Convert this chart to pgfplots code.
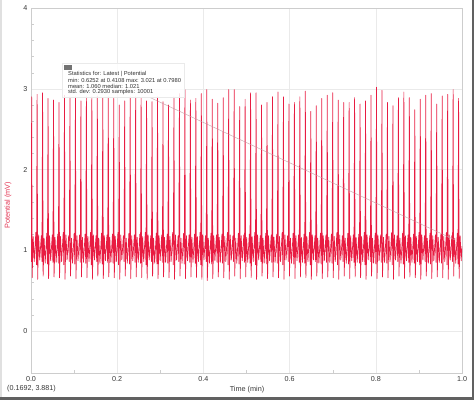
\documentclass[border=0pt]{standalone}
\usepackage{fontspec}
\setmainfont{Liberation Sans}
\usepackage{pgfplots}
\pgfplotsset{compat=1.18}

\definecolor{trace}{RGB}{232,28,66}
\definecolor{gridgray}{RGB}{234,234,234}
\definecolor{framegray}{RGB}{205,205,205}
\definecolor{ticktext}{RGB}{55,55,55}
\definecolor{leader}{RGB}{196,150,160}
\definecolor{ylab}{RGB}{226,50,80}

\begin{document}
\begin{tikzpicture}[x=1bp,y=1bp]
\fill[white] (0,0) rectangle (474,400);

\begin{axis}[
    at={(31bp,27bp)}, anchor=south west,
    scale only axis,
    width=431bp, height=365bp,
    xmin=0, xmax=1,
    ymin=-0.52, ymax=4,
    xtick={0,0.2,0.4,0.6,0.8,1},
    ytick={0,1,2,3,4},
    minor x tick num=1,
    minor y tick num=4,
    xtick pos=bottom, ytick pos=left,
    major tick length=0pt,
    minor tick length=3bp,
    minor tick style={framegray},
    axis line style={framegray},
    grid=major,
    major grid style={gridgray, line width=0.5pt},
    ticklabel style={font=\fontsize{7.2}{8}\selectfont, text=ticktext},
    xticklabel style={/pgf/number format/.cd, fixed, fixed zerofill, precision=1, assume math mode=true},
    yticklabel style={/pgf/number format/assume math mode=true},
]

\addplot[trace, line width=0.7bp, line join=round] coordinates {
(0.0000,1.02) (0.0008,0.86) (0.0015,2.90) (0.0027,0.66) (0.0050,1.17) (0.0075,0.86)
(0.0112,1.22) (0.0127,0.82) (0.0142,2.93) (0.0154,0.64) (0.0177,1.19) (0.0202,0.88)
(0.0239,1.18) (0.0254,0.86) (0.0269,2.95) (0.0281,0.68) (0.0304,1.15) (0.0329,0.84)
(0.0366,1.21) (0.0381,0.83) (0.0396,2.88) (0.0408,0.65) (0.0431,1.18) (0.0456,0.87)
(0.0493,1.19) (0.0508,0.85) (0.0523,2.86) (0.0535,0.67) (0.0558,1.16) (0.0583,0.85)
(0.0620,1.20) (0.0635,0.84) (0.0650,2.83) (0.0662,0.66) (0.0685,1.17) (0.0710,0.86)
(0.0747,1.22) (0.0762,0.82) (0.0777,2.92) (0.0789,0.64) (0.0812,1.19) (0.0837,0.88)
(0.0874,1.18) (0.0889,0.86) (0.0904,2.90) (0.0916,0.68) (0.0939,1.15) (0.0964,0.84)
(0.1001,1.21) (0.1016,0.83) (0.1031,2.90) (0.1043,0.65) (0.1066,1.18) (0.1091,0.87)
(0.1128,1.19) (0.1143,0.85) (0.1158,2.85) (0.1170,0.67) (0.1193,1.16) (0.1218,0.85)
(0.1255,1.20) (0.1270,0.84) (0.1285,2.90) (0.1297,0.66) (0.1320,1.17) (0.1345,0.86)
(0.1382,1.22) (0.1397,0.82) (0.1412,2.90) (0.1424,0.64) (0.1447,1.19) (0.1472,0.88)
(0.1509,1.18) (0.1524,0.86) (0.1539,2.91) (0.1551,0.68) (0.1574,1.15) (0.1599,0.84)
(0.1636,1.21) (0.1651,0.83) (0.1666,2.89) (0.1678,0.65) (0.1701,1.18) (0.1726,0.87)
(0.1763,1.19) (0.1778,0.85) (0.1793,2.90) (0.1805,0.67) (0.1828,1.16) (0.1853,0.85)
(0.1890,1.20) (0.1905,0.84) (0.1920,2.88) (0.1932,0.66) (0.1955,1.17) (0.1980,0.86)
(0.2017,1.22) (0.2032,0.82) (0.2047,2.80) (0.2059,0.64) (0.2082,1.19) (0.2107,0.88)
(0.2144,1.18) (0.2159,0.86) (0.2174,2.85) (0.2186,0.68) (0.2209,1.15) (0.2234,0.84)
(0.2271,1.21) (0.2286,0.83) (0.2301,2.90) (0.2313,0.65) (0.2336,1.18) (0.2361,0.87)
(0.2398,1.19) (0.2413,0.85) (0.2428,2.90) (0.2440,0.67) (0.2463,1.16) (0.2488,0.85)
(0.2525,1.20) (0.2540,0.84) (0.2555,2.88) (0.2567,0.66) (0.2590,1.17) (0.2615,0.86)
(0.2652,1.22) (0.2667,0.82) (0.2682,2.85) (0.2694,0.64) (0.2717,1.19) (0.2742,0.88)
(0.2779,1.18) (0.2794,0.86) (0.2809,2.84) (0.2821,0.68) (0.2844,1.15) (0.2869,0.84)
(0.2906,1.21) (0.2921,0.83) (0.2936,2.90) (0.2948,0.65) (0.2971,1.18) (0.2996,0.87)
(0.3033,1.19) (0.3048,0.85) (0.3063,2.84) (0.3075,0.67) (0.3098,1.16) (0.3123,0.85)
(0.3160,1.20) (0.3175,0.84) (0.3190,2.80) (0.3202,0.66) (0.3225,1.17) (0.3250,0.86)
(0.3287,1.22) (0.3302,0.82) (0.3317,2.90) (0.3329,0.64) (0.3352,1.19) (0.3377,0.88)
(0.3414,1.18) (0.3429,0.86) (0.3444,2.94) (0.3456,0.68) (0.3479,1.15) (0.3504,0.84)
(0.3541,1.21) (0.3556,0.83) (0.3571,2.99) (0.3583,0.65) (0.3606,1.18) (0.3631,0.87)
(0.3668,1.19) (0.3683,0.85) (0.3698,2.86) (0.3710,0.67) (0.3733,1.16) (0.3758,0.85)
(0.3795,1.20) (0.3810,0.84) (0.3825,2.88) (0.3837,0.66) (0.3860,1.17) (0.3885,0.86)
(0.3922,1.22) (0.3937,0.82) (0.3952,2.94) (0.3964,0.64) (0.3987,1.19) (0.4012,0.88)
(0.4049,1.18) (0.4064,0.86) (0.4079,2.99) (0.4091,0.625) (0.4114,1.15) (0.4139,0.84)
(0.4176,1.21) (0.4191,0.83) (0.4206,2.87) (0.4218,0.65) (0.4241,1.18) (0.4266,0.87)
(0.4303,1.19) (0.4318,0.85) (0.4333,2.82) (0.4345,0.67) (0.4368,1.16) (0.4393,0.85)
(0.4430,1.20) (0.4445,0.84) (0.4460,2.89) (0.4472,0.66) (0.4495,1.17) (0.4520,0.86)
(0.4557,1.22) (0.4572,0.82) (0.4587,2.99) (0.4599,0.64) (0.4622,1.19) (0.4647,0.88)
(0.4684,1.18) (0.4699,0.86) (0.4714,2.99) (0.4726,0.68) (0.4749,1.15) (0.4774,0.84)
(0.4811,1.21) (0.4826,0.83) (0.4841,2.78) (0.4853,0.65) (0.4876,1.18) (0.4901,0.87)
(0.4938,1.19) (0.4953,0.85) (0.4968,2.87) (0.4980,0.67) (0.5003,1.16) (0.5028,0.85)
(0.5065,1.20) (0.5080,0.84) (0.5095,2.95) (0.5107,0.66) (0.5130,1.17) (0.5155,0.86)
(0.5192,1.22) (0.5207,0.82) (0.5222,2.95) (0.5234,0.64) (0.5257,1.19) (0.5282,0.88)
(0.5319,1.18) (0.5334,0.86) (0.5349,2.80) (0.5361,0.68) (0.5384,1.15) (0.5409,0.84)
(0.5446,1.21) (0.5461,0.83) (0.5476,2.83) (0.5488,0.65) (0.5511,1.18) (0.5536,0.87)
(0.5573,1.19) (0.5588,0.85) (0.5603,2.90) (0.5615,0.67) (0.5638,1.16) (0.5663,0.85)
(0.5700,1.20) (0.5715,0.84) (0.5730,2.96) (0.5742,0.66) (0.5765,1.17) (0.5790,0.86)
(0.5827,1.22) (0.5842,0.82) (0.5857,2.90) (0.5869,0.64) (0.5892,1.19) (0.5917,0.88)
(0.5954,1.18) (0.5969,0.86) (0.5984,2.81) (0.5996,0.68) (0.6019,1.15) (0.6044,0.84)
(0.6081,1.21) (0.6096,0.83) (0.6111,2.83) (0.6123,0.65) (0.6146,1.18) (0.6171,0.87)
(0.6208,1.19) (0.6223,0.85) (0.6238,2.90) (0.6250,0.67) (0.6273,1.16) (0.6298,0.85)
(0.6335,1.20) (0.6350,0.84) (0.6365,2.97) (0.6377,0.66) (0.6400,1.17) (0.6425,0.86)
(0.6462,1.22) (0.6477,0.82) (0.6492,2.72) (0.6504,0.64) (0.6527,1.19) (0.6552,0.88)
(0.6589,1.18) (0.6604,0.86) (0.6619,2.79) (0.6631,0.68) (0.6654,1.15) (0.6679,0.84)
(0.6716,1.21) (0.6731,0.83) (0.6746,2.88) (0.6758,0.65) (0.6781,1.18) (0.6806,0.87)
(0.6843,1.19) (0.6858,0.85) (0.6873,2.92) (0.6885,0.67) (0.6908,1.16) (0.6933,0.85)
(0.6970,1.20) (0.6985,0.84) (0.7000,2.95) (0.7012,0.66) (0.7035,1.17) (0.7060,0.86)
(0.7097,1.22) (0.7112,0.82) (0.7127,2.86) (0.7139,0.64) (0.7162,1.19) (0.7187,0.88)
(0.7224,1.18) (0.7239,0.86) (0.7254,2.83) (0.7266,0.68) (0.7289,1.15) (0.7314,0.84)
(0.7351,1.21) (0.7366,0.83) (0.7381,2.83) (0.7393,0.65) (0.7416,1.18) (0.7441,0.87)
(0.7478,1.19) (0.7493,0.85) (0.7508,2.89) (0.7520,0.67) (0.7543,1.16) (0.7568,0.85)
(0.7605,1.20) (0.7620,0.84) (0.7635,2.81) (0.7647,0.66) (0.7670,1.17) (0.7695,0.86)
(0.7732,1.22) (0.7747,0.82) (0.7762,2.85) (0.7774,0.64) (0.7797,1.19) (0.7822,0.88)
(0.7859,1.18) (0.7874,0.86) (0.7889,2.92) (0.7901,0.68) (0.7924,1.15) (0.7949,0.84)
(0.7986,1.21) (0.8001,0.83) (0.8016,3.02) (0.8028,0.65) (0.8051,1.18) (0.8076,0.87)
(0.8113,1.19) (0.8128,0.85) (0.8143,2.98) (0.8155,0.67) (0.8178,1.16) (0.8203,0.85)
(0.8240,1.20) (0.8255,0.84) (0.8270,2.83) (0.8282,0.66) (0.8305,1.17) (0.8330,0.86)
(0.8367,1.22) (0.8382,0.82) (0.8397,2.79) (0.8409,0.64) (0.8432,1.19) (0.8457,0.88)
(0.8494,1.18) (0.8509,0.86) (0.8524,2.89) (0.8536,0.68) (0.8559,1.15) (0.8584,0.84)
(0.8621,1.21) (0.8636,0.83) (0.8651,2.96) (0.8663,0.65) (0.8686,1.18) (0.8711,0.87)
(0.8748,1.19) (0.8763,0.85) (0.8778,2.89) (0.8790,0.67) (0.8813,1.16) (0.8838,0.85)
(0.8875,1.20) (0.8890,0.84) (0.8905,2.74) (0.8917,0.66) (0.8940,1.17) (0.8965,0.86)
(0.9002,1.22) (0.9017,0.82) (0.9032,2.87) (0.9044,0.64) (0.9067,1.19) (0.9092,0.88)
(0.9129,1.18) (0.9144,0.86) (0.9159,2.92) (0.9171,0.68) (0.9194,1.15) (0.9219,0.84)
(0.9256,1.21) (0.9271,0.83) (0.9286,2.94) (0.9298,0.65) (0.9321,1.18) (0.9346,0.87)
(0.9383,1.19) (0.9398,0.85) (0.9413,2.81) (0.9425,0.67) (0.9448,1.16) (0.9473,0.85)
(0.9510,1.20) (0.9525,0.84) (0.9540,2.91) (0.9552,0.66) (0.9575,1.17) (0.9600,0.86)
(0.9637,1.22) (0.9652,0.82) (0.9667,2.93) (0.9679,0.64) (0.9702,1.19) (0.9727,0.88)
(0.9764,1.18) (0.9779,0.86) (0.9794,2.99) (0.9806,0.68) (0.9829,1.15) (0.9854,0.84)
(0.9891,1.21) (0.9906,0.83) (0.9921,2.88) (0.9933,0.65) (0.9956,1.18) (0.9981,0.87)
(1.0000,1.05)
};
\end{axis}

% leader line from the statistics box
\draw[leader, line width=0.5bp, opacity=0.8] (150,302.5) -- (455,160);

% statistics box
\filldraw[fill=white, fill opacity=0.85, draw=gridgray, line width=0.5bp] (62,303) rectangle (184,337);
\fill[black!55] (64,330) rectangle (72,335);
\begin{scope}[every node/.style={anchor=west, inner sep=0pt, font=\fontsize{5.8}{6.5}\selectfont, text=black!80}]
\node at (68,326) {Statistics for: Latest | Potential};
\node at (68,320) {min: 0.6252 at 0.4108 max: 3.021 at 0.7980};
\node at (68,314) {mean: 1.060 median: 1.021};
\node at (68,308) {std. dev: 0.2930 samples: 10001};
\end{scope}

% axis labels and cursor readout
\node[font=\fontsize{7.3}{8}\selectfont, text=ticktext] at (247,10) {Time (min)};
\node[anchor=west, inner sep=0pt, font=\fontsize{7.2}{8}\selectfont, text=ticktext] at (7,11) {(0.1692, 3.881)};
\node[rotate=90, font=\fontsize{7.3}{8}\selectfont, text=ylab] at (8,195) {Potential (mV)};

% window frame
\fill[black!12] (0,0) rectangle (1.5,400);
\fill[black!62] (472,0) rectangle (474,400);
\fill[black!62] (0,0) rectangle (474,3);

\pgfresetboundingbox
\path (0,0) rectangle (474,400);
\end{tikzpicture}
\end{document}
